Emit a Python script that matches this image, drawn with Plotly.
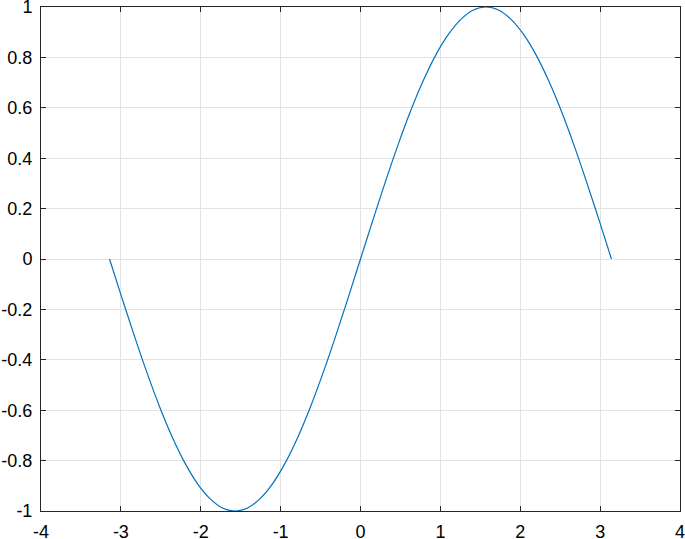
import plotly.graph_objects as go

x_vals = [-3.142, -2.985, -2.827, -2.670, -2.513, -2.356, -2.199, -2.042, -1.885, -1.728,
          -1.571, -1.414, -1.257, -1.100, -0.942, -0.785, -0.628, -0.471, -0.314, -0.157,
          0.000, 0.157, 0.314, 0.471, 0.628, 0.785, 0.942, 1.100, 1.257, 1.414,
          1.571, 1.728, 1.885, 2.042, 2.199, 2.356, 2.513, 2.670, 2.827, 2.985, 3.142]
y_vals = [0.000, -0.156, -0.309, -0.454, -0.588, -0.707, -0.809, -0.891, -0.951, -0.988,
          -1.000, -0.988, -0.951, -0.891, -0.809, -0.707, -0.588, -0.454, -0.309, -0.156,
          0.000, 0.156, 0.309, 0.454, 0.588, 0.707, 0.809, 0.891, 0.951, 0.988,
          1.000, 0.988, 0.951, 0.891, 0.809, 0.707, 0.588, 0.454, 0.309, 0.156, 0.000]

x_ticks = [-4, -3, -2, -1, 0, 1, 2, 3, 4]
y_ticks = [-1, -0.8, -0.6, -0.4, -0.2, 0, 0.2, 0.4, 0.6, 0.8, 1]

fig = go.Figure(go.Scatter(x=x_vals, y=y_vals, mode='lines',
                           line=dict(color='#0072BD', width=1.2, shape='spline')))

axis_style = dict(showline=True, linecolor='#262626', linewidth=1, mirror='ticks',
                  ticks='inside', ticklen=5, tickcolor='#262626',
                  showgrid=True, gridcolor='#E3E3E3', gridwidth=1, zeroline=False,
                  automargin=False, ticklabeloverflow='allow',
                  tickfont=dict(family='Liberation Sans, Arial', size=18, color='#000000'))

fig.update_xaxes(range=[-4, 4], tickvals=x_ticks, ticktext=[str(v) for v in x_ticks],
                 ticklabelstandoff=4, **axis_style)
fig.update_yaxes(range=[-1, 1], tickvals=y_ticks, ticktext=[f'{v:g}' for v in y_ticks],
                 ticklabelstandoff=4, **axis_style)

fig.update_layout(width=685, height=539, margin=dict(l=41, r=5, t=7, b=28),
                  plot_bgcolor='white', paper_bgcolor='white', showlegend=False)

# drop the default page margin so the figure sits at the window's corner
fig.write_html("out.html", config={'displayModeBar': False},
               post_script="document.body.style.margin='0px';")
